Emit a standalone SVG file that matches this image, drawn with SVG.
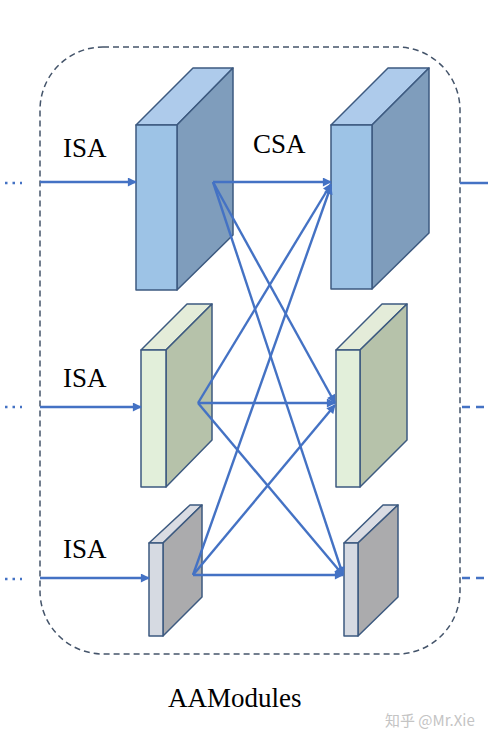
<svg xmlns="http://www.w3.org/2000/svg" width="488" height="742" viewBox="0 0 488 742">
<style>
.edge{stroke:#4472C4;stroke-width:2.4;fill:none}
.blk{stroke:#3D5A80;stroke-width:1.5;stroke-linejoin:round}
.lbl{font-family:"Liberation Serif","Times New Roman",serif;font-size:27px;fill:#000}
.dots{stroke:#4472C4;stroke-width:2.5;stroke-dasharray:2.5 5;fill:none}
.out{stroke:#4472C4;stroke-width:2.5;fill:none}
.bf{fill:#9DC3E6}.bt{fill:#AECBEB}.bs{fill:#7F9DBC}
.gf{fill:#E2EFDA}.gt{fill:#E4ECD9}.gs{fill:#B6C2AA}
.yf{fill:#D6DAE2}.yt{fill:#DADCE3}.ys{fill:#ABABAD}
</style>
<defs>
<marker id="ah" viewBox="0 0 10 10" refX="9" refY="5" markerWidth="10" markerHeight="9" markerUnits="userSpaceOnUse" orient="auto">
<path d="M0,0 L10,5 L0,10 z" fill="#4472C4"/>
</marker>
</defs>
<rect id="module-frame" x="40" y="47" width="420" height="607" rx="63" ry="63" fill="none" stroke="#44546A" stroke-width="1.5" stroke-dasharray="6 4"/>
<g id="isa1">
<polygon class="blk bt" points="136,125 193,68 233,68 177,125"/>
<polygon class="blk bs" points="177,125 233,68 233,235 177,290"/>
<rect class="blk bf" x="136" y="125" width="41" height="165"/>
</g>
<g id="csa1">
<polygon class="blk bt" points="331,125 388,68 429,68 372,125"/>
<polygon class="blk bs" points="372,125 429,68 429,233 372,289"/>
<rect class="blk bf" x="331" y="125" width="41" height="164"/>
</g>
<g id="isa2">
<polygon class="blk gt" points="141,350 187,304 212,304 166,350"/>
<polygon class="blk gs" points="166,350 212,304 212,440 166,487"/>
<rect class="blk gf" x="141" y="350" width="25" height="137"/>
</g>
<g id="csa2">
<polygon class="blk gt" points="336,350 382,304 407,304 360,350"/>
<polygon class="blk gs" points="360,350 407,304 407,440 360,487"/>
<rect class="blk gf" x="336" y="350" width="24" height="137"/>
</g>
<g id="isa3">
<polygon class="blk yt" points="149,543 190,505 202,505 163,543"/>
<polygon class="blk ys" points="163,543 202,505 202,597 163,636"/>
<rect class="blk yf" x="149" y="543" width="14" height="93"/>
</g>
<g id="csa3">
<polygon class="blk yt" points="344,543 383,505 398,505 358,543"/>
<polygon class="blk ys" points="358,543 398,505 398,597 358,636"/>
<rect class="blk yf" x="344" y="543" width="14" height="93"/>
</g>
<g id="connectors">
<path class="dots" d="M5,183 H22"/>
<path class="dots" d="M5,407 H22"/>
<path class="dots" d="M5,579 H22"/>
<path class="edge" d="M40,182 H136" marker-end="url(#ah)"/>
<path class="edge" d="M40,407 H141" marker-end="url(#ah)"/>
<path class="edge" d="M40,578 H149" marker-end="url(#ah)"/>
<path class="edge" d="M213,182 L331,182" marker-end="url(#ah)"/>
<path class="edge" d="M213,182 L335,403" marker-end="url(#ah)"/>
<path class="edge" d="M213,182 L343,575" marker-end="url(#ah)"/>
<path class="edge" d="M198,403 L331,184" marker-end="url(#ah)"/>
<path class="edge" d="M198,403 L335,403" marker-end="url(#ah)"/>
<path class="edge" d="M198,403 L343,575" marker-end="url(#ah)"/>
<path class="edge" d="M193,575 L331,186" marker-end="url(#ah)"/>
<path class="edge" d="M193,575 L335,405" marker-end="url(#ah)"/>
<path class="edge" d="M193,575 L343,575" marker-end="url(#ah)"/>
<path class="out" d="M460,183 H488"/>
<path class="out" d="M462,407 H488" stroke-dasharray="8 6"/>
<path class="out" d="M462,578 H488" stroke-dasharray="8 6"/>
</g>
<text class="lbl" x="63" y="157">ISA</text>
<text class="lbl" x="253" y="153">CSA</text>
<text class="lbl" x="63" y="387">ISA</text>
<text class="lbl" x="63" y="558">ISA</text>
<text class="lbl" x="168" y="707">AAModules</text>
<text x="385" y="726" font-family="'Noto Sans CJK SC','Noto Sans',sans-serif" font-size="15" fill="#C4C4C4">知乎 @Mr.Xie</text>
</svg>
